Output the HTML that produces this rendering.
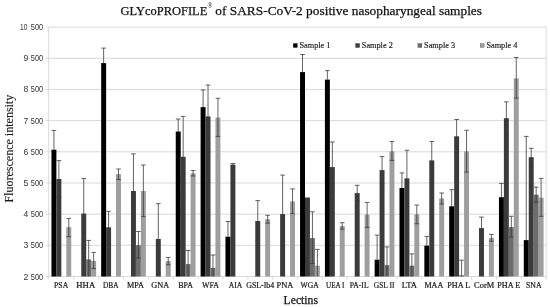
<!DOCTYPE html>
<html><head><meta charset="utf-8"><title>GLYcoPROFILE chart</title>
<style>html,body{margin:0;padding:0;background:#fff;overflow:hidden}svg{display:block}</style>
</head><body>
<svg width="550" height="307" viewBox="0 0 550 307">
<rect width="550" height="307" fill="#fff"/>
<g stroke="#d9d9d9" stroke-width="1"><line x1="45.5" y1="245.32" x2="546.1" y2="245.32"/><line x1="45.5" y1="214.15" x2="546.1" y2="214.15"/><line x1="45.5" y1="182.97" x2="546.1" y2="182.97"/><line x1="45.5" y1="151.8" x2="546.1" y2="151.8"/><line x1="45.5" y1="120.62" x2="546.1" y2="120.62"/><line x1="45.5" y1="89.45" x2="546.1" y2="89.45"/><line x1="45.5" y1="58.28" x2="546.1" y2="58.28"/><line x1="45.5" y1="27.1" x2="546.1" y2="27.1"/><line x1="546.1" y1="27.1" x2="546.1" y2="279.5"/><line x1="48.7" y1="27.1" x2="48.7" y2="279.5"/><line x1="45.5" y1="276.5" x2="546.1" y2="276.5"/><line x1="73.86" y1="276.5" x2="73.86" y2="279.5"/><line x1="98.72" y1="276.5" x2="98.72" y2="279.5"/><line x1="123.58" y1="276.5" x2="123.58" y2="279.5"/><line x1="148.44" y1="276.5" x2="148.44" y2="279.5"/><line x1="173.3" y1="276.5" x2="173.3" y2="279.5"/><line x1="198.16" y1="276.5" x2="198.16" y2="279.5"/><line x1="223.02" y1="276.5" x2="223.02" y2="279.5"/><line x1="247.88" y1="276.5" x2="247.88" y2="279.5"/><line x1="272.74" y1="276.5" x2="272.74" y2="279.5"/><line x1="297.6" y1="276.5" x2="297.6" y2="279.5"/><line x1="322.46" y1="276.5" x2="322.46" y2="279.5"/><line x1="347.32" y1="276.5" x2="347.32" y2="279.5"/><line x1="372.18" y1="276.5" x2="372.18" y2="279.5"/><line x1="397.04" y1="276.5" x2="397.04" y2="279.5"/><line x1="421.9" y1="276.5" x2="421.9" y2="279.5"/><line x1="446.76" y1="276.5" x2="446.76" y2="279.5"/><line x1="471.62" y1="276.5" x2="471.62" y2="279.5"/><line x1="496.48" y1="276.5" x2="496.48" y2="279.5"/><line x1="521.34" y1="276.5" x2="521.34" y2="279.5"/></g>
<g><rect x="51.45" y="149.7" width="4.95" height="126.8" fill="#000000"/><rect x="56.4" y="179" width="4.95" height="97.5" fill="#3b3b3b"/><rect x="66.3" y="227.2" width="4.95" height="49.3" fill="#9e9e9e"/><rect x="81.26" y="213.6" width="4.95" height="62.9" fill="#3b3b3b"/><rect x="86.21" y="259.4" width="4.95" height="17.1" fill="#6c6c6c"/><rect x="91.16" y="261" width="4.95" height="15.5" fill="#9e9e9e"/><rect x="101.17" y="63.1" width="4.95" height="213.4" fill="#000000"/><rect x="106.12" y="227.3" width="4.95" height="49.2" fill="#3b3b3b"/><rect x="116.02" y="174.1" width="4.95" height="102.4" fill="#9e9e9e"/><rect x="130.98" y="191" width="4.95" height="85.5" fill="#3b3b3b"/><rect x="135.93" y="245.2" width="4.95" height="31.3" fill="#6c6c6c"/><rect x="140.88" y="191" width="4.95" height="85.5" fill="#9e9e9e"/><rect x="155.84" y="239" width="4.95" height="37.5" fill="#3b3b3b"/><rect x="165.74" y="261.1" width="4.95" height="15.4" fill="#9e9e9e"/><rect x="175.75" y="131.5" width="4.95" height="145" fill="#000000"/><rect x="180.7" y="156.8" width="4.95" height="119.7" fill="#3b3b3b"/><rect x="185.65" y="264.1" width="4.95" height="12.4" fill="#6c6c6c"/><rect x="190.6" y="173.3" width="4.95" height="103.2" fill="#9e9e9e"/><rect x="200.61" y="107.1" width="4.95" height="169.4" fill="#000000"/><rect x="205.56" y="116.4" width="4.95" height="160.1" fill="#3b3b3b"/><rect x="210.51" y="268" width="4.95" height="8.5" fill="#6c6c6c"/><rect x="215.46" y="117.6" width="4.95" height="158.9" fill="#9e9e9e"/><rect x="225.47" y="236.7" width="4.95" height="39.8" fill="#000000"/><rect x="230.42" y="164.7" width="4.95" height="111.8" fill="#3b3b3b"/><rect x="255.28" y="221" width="4.95" height="55.5" fill="#3b3b3b"/><rect x="265.18" y="219.2" width="4.95" height="57.3" fill="#9e9e9e"/><rect x="280.14" y="214.1" width="4.95" height="62.4" fill="#3b3b3b"/><rect x="290.04" y="201.4" width="4.95" height="75.1" fill="#9e9e9e"/><rect x="300.05" y="72.1" width="4.95" height="204.4" fill="#000000"/><rect x="305" y="197.5" width="4.95" height="79" fill="#3b3b3b"/><rect x="309.95" y="238.1" width="4.95" height="38.4" fill="#6c6c6c"/><rect x="314.9" y="265.7" width="4.95" height="10.8" fill="#9e9e9e"/><rect x="324.91" y="79.6" width="4.95" height="196.9" fill="#000000"/><rect x="329.86" y="167.1" width="4.95" height="109.4" fill="#3b3b3b"/><rect x="339.76" y="226" width="4.95" height="50.5" fill="#9e9e9e"/><rect x="354.72" y="193.1" width="4.95" height="83.4" fill="#3b3b3b"/><rect x="364.62" y="214.6" width="4.95" height="61.9" fill="#9e9e9e"/><rect x="374.63" y="259.7" width="4.95" height="16.8" fill="#000000"/><rect x="379.58" y="170.1" width="4.95" height="106.4" fill="#3b3b3b"/><rect x="384.53" y="265.2" width="4.95" height="11.3" fill="#6c6c6c"/><rect x="389.48" y="151.3" width="4.95" height="125.2" fill="#9e9e9e"/><rect x="399.49" y="188" width="4.95" height="88.5" fill="#000000"/><rect x="404.44" y="178.4" width="4.95" height="98.1" fill="#3b3b3b"/><rect x="409.39" y="265.7" width="4.95" height="10.8" fill="#6c6c6c"/><rect x="414.34" y="214.3" width="4.95" height="62.2" fill="#9e9e9e"/><rect x="424.35" y="245.6" width="4.95" height="30.9" fill="#000000"/><rect x="429.3" y="160.4" width="4.95" height="116.1" fill="#3b3b3b"/><rect x="439.2" y="198.5" width="4.95" height="78" fill="#9e9e9e"/><rect x="449.21" y="206.3" width="4.95" height="70.2" fill="#000000"/><rect x="454.16" y="136.3" width="4.95" height="140.2" fill="#3b3b3b"/><rect x="459.11" y="275.3" width="4.95" height="1.2" fill="#6c6c6c"/><rect x="464.06" y="151.3" width="4.95" height="125.2" fill="#9e9e9e"/><rect x="479.02" y="228.1" width="4.95" height="48.4" fill="#3b3b3b"/><rect x="488.92" y="237.8" width="4.95" height="38.7" fill="#9e9e9e"/><rect x="498.93" y="197.2" width="4.95" height="79.3" fill="#000000"/><rect x="503.88" y="118.2" width="4.95" height="158.3" fill="#3b3b3b"/><rect x="508.83" y="227.1" width="4.95" height="49.4" fill="#6c6c6c"/><rect x="513.78" y="78.3" width="4.95" height="198.2" fill="#9e9e9e"/><rect x="523.79" y="240.1" width="4.95" height="36.4" fill="#000000"/><rect x="528.74" y="157.2" width="4.95" height="119.3" fill="#3b3b3b"/><rect x="533.69" y="194.7" width="4.95" height="81.8" fill="#6c6c6c"/><rect x="538.64" y="197.7" width="4.95" height="78.8" fill="#9e9e9e"/></g>
<g stroke="#3b3b3b" stroke-width="0.8" fill="none"><path d="M53.93 130.4V149.7M51.63 130.4H56.23"/><path d="M58.88 160.6V197.4M56.58 160.6H61.18M56.58 197.4H61.18"/><path d="M68.78 218.4V236.7M66.48 218.4H71.08M66.48 236.7H71.08"/><path d="M83.73 178.5V248.7M81.44 178.5H86.03M81.44 248.7H86.03"/><path d="M88.69 240.4V276.5M86.39 240.4H90.98"/><path d="M93.63 252.4V268.6M91.33 252.4H95.93M91.33 268.6H95.93"/><path d="M103.64 48.1V63.1M101.34 48.1H105.94"/><path d="M108.59 211.3V243.3M106.3 211.3H110.89M106.3 243.3H110.89"/><path d="M118.5 169V179.5M116.2 169H120.8M116.2 179.5H120.8"/><path d="M133.45 153.9V228.1M131.15 153.9H135.75M131.15 228.1H135.75"/><path d="M138.41 231.5V258M136.1 231.5H140.71M136.1 258H140.71"/><path d="M143.35 165V216.6M141.05 165H145.66M141.05 216.6H145.66"/><path d="M158.31 203.6V274.4M156.01 203.6H160.61M156.01 274.4H160.61"/><path d="M168.21 257.4V264.8M165.91 257.4H170.51M165.91 264.8H170.51"/><path d="M178.22 119V131.5M175.92 119H180.53"/><path d="M183.17 116.4V197.2M180.87 116.4H185.47M180.87 197.2H185.47"/><path d="M188.12 250.5V276.5M185.82 250.5H190.43"/><path d="M193.07 170.6V176M190.77 170.6H195.38M190.77 176H195.38"/><path d="M203.09 90V107.1M200.78 90H205.39"/><path d="M208.03 85V147.8M205.73 85H210.34M205.73 147.8H210.34"/><path d="M212.99 255V276.5M210.69 255H215.29"/><path d="M217.94 98.3V136.4M215.63 98.3H220.24M215.63 136.4H220.24"/><path d="M227.94 221.5V236.7M225.64 221.5H230.24"/><path d="M232.89 163.5V165.9M230.59 163.5H235.19M230.59 165.9H235.19"/><path d="M257.75 200.6V241.4M255.45 200.6H260.06M255.45 241.4H260.06"/><path d="M267.66 215.3V223.2M265.36 215.3H269.96M265.36 223.2H269.96"/><path d="M282.62 175.1V253.1M280.31 175.1H284.92M280.31 253.1H284.92"/><path d="M292.52 188.9V213.6M290.22 188.9H294.82M290.22 213.6H294.82"/><path d="M302.53 54.5V72.1M300.23 54.5H304.83"/><path d="M312.43 211.8V263.5M310.12 211.8H314.73M310.12 263.5H314.73"/><path d="M317.38 249.4V276.5M315.08 249.4H319.68"/><path d="M327.38 70.6V79.6M325.08 70.6H329.69"/><path d="M332.33 142V192.2M330.03 142H334.63M330.03 192.2H334.63"/><path d="M342.24 222.7V229.2M339.94 222.7H344.54M339.94 229.2H344.54"/><path d="M357.19 185.3V200.9M354.89 185.3H359.5M354.89 200.9H359.5"/><path d="M367.1 202.4V227.4M364.8 202.4H369.4M364.8 227.4H369.4"/><path d="M377.11 235.1V259.7M374.81 235.1H379.41"/><path d="M382.06 156.6V183.6M379.75 156.6H384.36M379.75 183.6H384.36"/><path d="M387 246.9V276.5M384.7 246.9H389.31"/><path d="M391.96 141.5V160.4M389.66 141.5H394.26M389.66 160.4H394.26"/><path d="M401.96 172.9V188M399.66 172.9H404.26"/><path d="M406.91 150.3V206.5M404.61 150.3H409.21M404.61 206.5H409.21"/><path d="M411.86 253.9V276.5M409.56 253.9H414.16"/><path d="M416.81 205V223.8M414.51 205H419.12M414.51 223.8H419.12"/><path d="M426.82 236.4V245.6M424.52 236.4H429.12"/><path d="M431.77 141.5V179.3M429.47 141.5H434.07M429.47 179.3H434.07"/><path d="M441.68 193V204M439.38 193H443.98M439.38 204H443.98"/><path d="M451.69 189.7V206.3M449.38 189.7H453.99"/><path d="M456.63 119.5V153.1M454.33 119.5H458.94M454.33 153.1H458.94"/><path d="M461.58 260.2V276.5M459.28 260.2H463.88"/><path d="M466.54 130.3V172.1M464.24 130.3H468.84M464.24 172.1H468.84"/><path d="M481.5 217.1V239.1M479.19 217.1H483.8M479.19 239.1H483.8"/><path d="M491.4 234.4V241.2M489.1 234.4H493.7M489.1 241.2H493.7"/><path d="M501.41 183.4V197.2M499.11 183.4H503.71"/><path d="M506.36 101.9V134.5M504.06 101.9H508.66M504.06 134.5H508.66"/><path d="M511.31 216.3V237.1M509 216.3H513.61M509 237.1H513.61"/><path d="M516.25 57.5V98.2M513.96 57.5H518.55M513.96 98.2H518.55"/><path d="M526.26 136.4V240.1M523.97 136.4H528.56"/><path d="M531.22 148.3V166.1M528.92 148.3H533.51M528.92 166.1H533.51"/><path d="M536.16 187.2V202.2M533.87 187.2H538.46M533.87 202.2H538.46"/><path d="M541.12 178.4V216.3M538.82 178.4H543.41M538.82 216.3H543.41"/></g>
<g font-family="'Liberation Sans', sans-serif" font-size="8.4" fill="#333"><text y="279.5"><tspan x="23.5" textLength="4.8" lengthAdjust="spacingAndGlyphs">2</tspan> <tspan x="30.8" textLength="12.4" lengthAdjust="spacingAndGlyphs">500</tspan></text><text y="248.32"><tspan x="23.5" textLength="4.8" lengthAdjust="spacingAndGlyphs">3</tspan> <tspan x="30.8" textLength="12.4" lengthAdjust="spacingAndGlyphs">500</tspan></text><text y="217.15"><tspan x="23.5" textLength="4.8" lengthAdjust="spacingAndGlyphs">4</tspan> <tspan x="30.8" textLength="12.4" lengthAdjust="spacingAndGlyphs">500</tspan></text><text y="185.97"><tspan x="23.5" textLength="4.8" lengthAdjust="spacingAndGlyphs">5</tspan> <tspan x="30.8" textLength="12.4" lengthAdjust="spacingAndGlyphs">500</tspan></text><text y="154.8"><tspan x="23.5" textLength="4.8" lengthAdjust="spacingAndGlyphs">6</tspan> <tspan x="30.8" textLength="12.4" lengthAdjust="spacingAndGlyphs">500</tspan></text><text y="123.62"><tspan x="23.5" textLength="4.8" lengthAdjust="spacingAndGlyphs">7</tspan> <tspan x="30.8" textLength="12.4" lengthAdjust="spacingAndGlyphs">500</tspan></text><text y="92.45"><tspan x="23.5" textLength="4.8" lengthAdjust="spacingAndGlyphs">8</tspan> <tspan x="30.8" textLength="12.4" lengthAdjust="spacingAndGlyphs">500</tspan></text><text y="61.28"><tspan x="23.5" textLength="4.8" lengthAdjust="spacingAndGlyphs">9</tspan> <tspan x="30.8" textLength="12.4" lengthAdjust="spacingAndGlyphs">500</tspan></text><text y="30.1"><tspan x="20" textLength="7.4" lengthAdjust="spacingAndGlyphs">10</tspan> <tspan x="30.8" textLength="12.4" lengthAdjust="spacingAndGlyphs">500</tspan></text></g>
<g font-family="'Liberation Serif', serif" font-size="7.7" fill="#1a1a1a" stroke="#1a1a1a" stroke-width="0.2"><text x="54" y="287.6" textLength="14.3" lengthAdjust="spacingAndGlyphs">PSA</text><text x="76.3" y="287.6" textLength="18.9" lengthAdjust="spacingAndGlyphs">HHA</text><text x="102.9" y="287.6" textLength="15.6" lengthAdjust="spacingAndGlyphs">DBA</text><text x="127" y="287.6" textLength="17" lengthAdjust="spacingAndGlyphs">MPA</text><text x="151.3" y="287.6" textLength="17.9" lengthAdjust="spacingAndGlyphs">GNA</text><text x="178.2" y="287.6" textLength="14.8" lengthAdjust="spacingAndGlyphs">BPA</text><text x="202" y="287.6" textLength="17" lengthAdjust="spacingAndGlyphs">WFA</text><text x="228.7" y="287.6" textLength="13.6" lengthAdjust="spacingAndGlyphs">AIA</text><text x="246.2" y="287.6" textLength="28.1" lengthAdjust="spacingAndGlyphs">GSL-Ib4</text><text x="276.5" y="287.6" textLength="16.8" lengthAdjust="spacingAndGlyphs">PNA</text><text x="300.5" y="287.6" textLength="18.2" lengthAdjust="spacingAndGlyphs">WGA</text><text x="326" y="287.6" textLength="18.5" lengthAdjust="spacingAndGlyphs">UEA I</text><text x="349.7" y="287.6" textLength="18.9" lengthAdjust="spacingAndGlyphs">PA-IL</text><text x="373.8" y="287.6" textLength="20.7" lengthAdjust="spacingAndGlyphs">GSL II</text><text x="401.7" y="287.6" textLength="15.3" lengthAdjust="spacingAndGlyphs">LTA</text><text x="424.4" y="287.6" textLength="18.9" lengthAdjust="spacingAndGlyphs">MAA</text><text x="447.3" y="287.6" textLength="22.9" lengthAdjust="spacingAndGlyphs">PHA L</text><text x="474.1" y="287.6" textLength="20.1" lengthAdjust="spacingAndGlyphs">CorM</text><text x="497.3" y="287.6" textLength="22.9" lengthAdjust="spacingAndGlyphs">PHA E</text><text x="526" y="287.6" textLength="15.6" lengthAdjust="spacingAndGlyphs">SNA</text></g>
<g font-family="'Liberation Serif', serif" font-size="8.1" fill="#1a1a1a" stroke="#1a1a1a" stroke-width="0.15"><rect x="293.2" y="43.4" width="4.2" height="4.2" fill="#000000"/><text x="299.5" y="47.5" textLength="31" lengthAdjust="spacingAndGlyphs">Sample 1</text><rect x="355.5" y="43.4" width="4.2" height="4.2" fill="#3b3b3b"/><text x="361.8" y="47.5" textLength="31" lengthAdjust="spacingAndGlyphs">Sample 2</text><rect x="417.8" y="43.4" width="4.2" height="4.2" fill="#6c6c6c"/><text x="424.1" y="47.5" textLength="31" lengthAdjust="spacingAndGlyphs">Sample 3</text><rect x="480.1" y="43.4" width="4.2" height="4.2" fill="#9e9e9e"/><text x="486.4" y="47.5" textLength="31" lengthAdjust="spacingAndGlyphs">Sample 4</text></g>
<g font-family="'Liberation Serif', serif" font-size="13" fill="#111" stroke="#111" stroke-width="0.25"><text x="120.6" y="14.5" textLength="86.7" lengthAdjust="spacingAndGlyphs">GLYcoPROFILE</text><text x="207.5" y="8.1" font-size="7.5" stroke="none" textLength="4.9" lengthAdjust="spacingAndGlyphs">®</text><text x="215.3" y="14.5" textLength="266.7" lengthAdjust="spacingAndGlyphs">of SARS-CoV-2 positive nasopharyngeal samples</text></g>
<text x="283.6" y="303.5" font-family="'Liberation Serif', serif" font-size="12" fill="#111" stroke="#111" stroke-width="0.25" textLength="34.4" lengthAdjust="spacingAndGlyphs">Lectins</text>
<text transform="translate(13 202.6) rotate(-90)" font-family="'Liberation Serif', serif" font-size="12" fill="#1a1a1a" stroke="#1a1a1a" stroke-width="0.1" textLength="107.9" lengthAdjust="spacingAndGlyphs">Fluorescence intensity</text>
</svg>
</body></html>
